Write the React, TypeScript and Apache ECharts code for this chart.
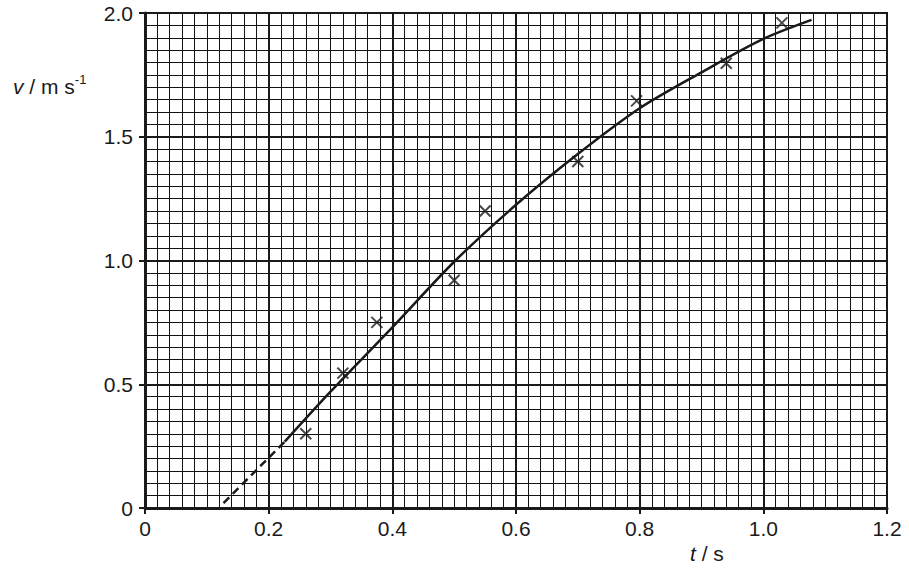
import React, { useEffect, useRef } from "react";
import * as echarts from "echarts";

const xTicks = [0, 0.2, 0.4, 0.6, 0.8, 1.0, 1.2];
const yTicks = [0, 0.5, 1.0, 1.5, 2.0];
const measuredT = [0.26, 0.32, 0.375, 0.5, 0.55, 0.7, 0.795, 0.94, 1.03];
const measuredV = [0.3, 0.545, 0.75, 0.92, 1.2, 1.4, 1.645, 1.797, 1.96];
const curveT = [0.226, 0.3, 0.4, 0.5, 0.6, 0.7, 0.8, 0.9, 1.0, 1.078];
const curveV = [0.268, 0.47, 0.73, 0.995, 1.225, 1.43, 1.615, 1.76, 1.895, 1.972];
const extrapT = [0.127, 0.226];
const extrapV = [0.02, 0.268];

const FONT = "'Liberation Sans', Arial, sans-serif";
const INK = "#1a1a1a";

export default function App() {
  const ref = useRef<HTMLDivElement>(null);
  useEffect(() => {
    if (!ref.current) return;
    const chart = echarts.init(ref.current, null, { renderer: "svg" });
    const fmt = (v: number) => (v === 0 ? "0" : v.toFixed(1));
    chart.setOption({
      animation: false,
      backgroundColor: "#ffffff",
      grid: {
        left: 145,
        right: 22,
        top: 13,
        bottom: 65,
        show: true,
        borderColor: INK,
        borderWidth: 2,
        outerBoundsMode: "none",
      },
      xAxis: {
        type: "value",
        min: xTicks[0],
        max: xTicks[xTicks.length - 1],
        interval: 0.2,
        axisLine: { show: true, onZero: false, lineStyle: { color: INK, width: 3 } },
        axisTick: { show: true, length: 6, lineStyle: { color: INK, width: 2 } },
        axisLabel: { formatter: fmt, color: INK, fontSize: 21, fontFamily: FONT, margin: 10 },
        splitLine: { show: true, lineStyle: { color: INK, width: 2 } },
        minorTick: { show: false, splitNumber: 10 },
        minorSplitLine: { show: true, lineStyle: { color: "#111", width: 1 } },
      },
      yAxis: {
        type: "value",
        min: yTicks[0],
        max: yTicks[yTicks.length - 1],
        interval: 0.5,
        axisLine: { show: true, onZero: false, lineStyle: { color: INK, width: 3 } },
        axisTick: { show: true, length: 6, lineStyle: { color: INK, width: 2 } },
        axisLabel: { formatter: fmt, color: INK, fontSize: 21, fontFamily: FONT, margin: 12 },
        splitLine: { show: true, lineStyle: { color: INK, width: 2 } },
        minorTick: { show: false, splitNumber: 10 },
        minorSplitLine: { show: true, lineStyle: { color: "#111", width: 1 } },
      },
      series: [
        {
          type: "line",
          data: extrapT.map((t, i) => [t, extrapV[i]]),
          showSymbol: false,
          lineStyle: { color: INK, width: 2.5, type: [8, 5] },
          z: 5,
        },
        {
          type: "line",
          data: curveT.map((t, i) => [t, curveV[i]]),
          showSymbol: false,
          smooth: 0.3,
          lineStyle: { color: INK, width: 2.5 },
          z: 5,
        },
        {
          type: "scatter",
          data: measuredT.map((t, i) => [t, measuredV[i]]),
          symbol: "path://M0,0 L10,10 M10,0 L0,10",
          symbolSize: 11,
          itemStyle: { color: "none", borderColor: INK, borderWidth: 2 },
          z: 6,
        },
      ],
      graphic: [
        {
          type: "text",
          left: 13,
          top: 73,
          style: {
            text: "{i|v}{n| / m s}{s|-1}",
            fill: INK,
            font: `21px ${FONT}`,
            rich: {
              i: { fontStyle: "italic", fontSize: 21, fontFamily: FONT, fill: INK, verticalAlign: "bottom", lineHeight: 24 },
              n: { fontSize: 21, fontFamily: FONT, fill: INK, verticalAlign: "bottom", lineHeight: 24 },
              s: { fontSize: 13, fontFamily: FONT, fill: INK, verticalAlign: "top", lineHeight: 14 },
            },
          },
        },
        {
          type: "text",
          left: 690,
          top: 543,
          style: {
            text: "{i|t}{n| / s}",
            fill: INK,
            font: `21px ${FONT}`,
            rich: {
              i: { fontStyle: "italic", fontSize: 21, fontFamily: FONT, fill: INK },
              n: { fontSize: 21, fontFamily: FONT, fill: INK },
            },
          },
        },
      ],
    });
    return () => chart.dispose();
  }, []);
  return (
    <div
      ref={ref}
      style={{ position: "fixed", left: 0, top: 0, width: 909, height: 573, background: "#fff" }}
    />
  );
}
